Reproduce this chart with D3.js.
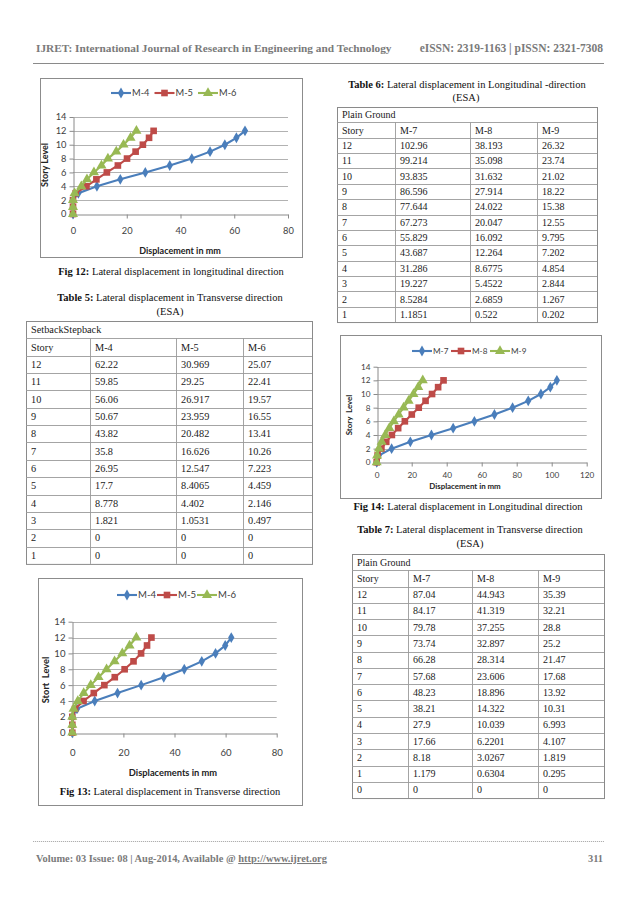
<!DOCTYPE html>
<html>
<head>
<meta charset="utf-8">
<script src="https://cdn.jsdelivr.net/npm/d3@7"></script>
<style>
  body { margin: 0; background: #fff; }
  text { font-family: "Liberation Serif", "Times New Roman", serif; }
  .xl text, text.xl { font-family: Lato, "Open Sans", sans-serif; }
</style>
</head>
<body>
<svg id="page" width="638" height="902"></svg>
<script>
// ---- data -------------------------------------------------------------
const plotStories = d3.range(0, 13);              // story level 0..12 on the charts
const legendA = ["M-4", "M-5", "M-6"];
const legendB = ["M-7", "M-8", "M-9"];

// Fig 12 (longitudinal, setback-stepback), story 0..12
const fig12M4 = [0, 0, 0, 2.0, 8.9, 17.6, 26.9, 36.0, 44.2, 51.0, 56.5, 60.8, 64.0];
const fig12M5 = [0, 0, 0, 1.0, 5.0, 8.7, 12.6, 16.7, 20.1, 23.3, 26.0, 28.3, 30.0];
const fig12M6 = [0, 0, 0, 0.6, 3.1, 5.2, 7.8, 10.6, 13.0, 16.1, 18.8, 21.4, 23.6];

// Table 5 (transverse, setback-stepback), story 12..1
const t5Stories = ["12", "11", "10", "9", "8", "7", "6", "5", "4", "3", "2", "1"];
const t5M4 = ["62.22", "59.85", "56.06", "50.67", "43.82", "35.8", "26.95", "17.7", "8.778", "1.821", "0", "0"];
const t5M5 = ["30.969", "29.25", "26.917", "23.959", "20.482", "16.626", "12.547", "8.4065", "4.402", "1.0531", "0", "0"];
const t5M6 = ["25.07", "22.41", "19.57", "16.55", "13.41", "10.26", "7.223", "4.459", "2.146", "0.497", "0", "0"];

// Table 6 (longitudinal, plain ground), story 12..1
const t6Stories = ["12", "11", "10", "9", "8", "7", "6", "5", "4", "3", "2", "1"];
const t6M7 = ["102.96", "99.214", "93.835", "86.596", "77.644", "67.273", "55.829", "43.687", "31.286", "19.227", "8.5284", "1.1851"];
const t6M8 = ["38.193", "35.098", "31.632", "27.914", "24.022", "20.047", "16.092", "12.264", "8.6775", "5.4522", "2.6859", "0.522"];
const t6M9 = ["26.32", "23.74", "21.02", "18.22", "15.38", "12.55", "9.795", "7.202", "4.854", "2.844", "1.267", "0.202"];

// Table 7 (transverse, plain ground), story 12..0
const t7Stories = ["12", "11", "10", "9", "8", "7", "6", "5", "4", "3", "2", "1", "0"];
const t7M7 = ["87.04", "84.17", "79.78", "73.74", "66.28", "57.68", "48.23", "38.21", "27.9", "17.66", "8.18", "1.179", "0"];
const t7M8 = ["44.943", "41.319", "37.255", "32.897", "28.314", "23.606", "18.896", "14.322", "10.039", "6.2201", "3.0267", "0.6304", "0"];
const t7M9 = ["35.39", "32.21", "28.8", "25.2", "21.47", "17.68", "13.92", "10.31", "6.993", "4.107", "1.819", "0.295", "0"];

// story 0 is 0 on the charts, tables list top story first
const fromTable = col => [0].concat(col.slice().reverse().map(Number)).slice(-13);

const seriesColors = ["#4a7ebb", "#be4b48", "#98b954"];
const seriesSymbols = [d3.symbolDiamond, d3.symbolSquare, d3.symbolTriangle];
const symbolSizes = [34, 44, 44];

const svg = d3.select('#page');

// ---- header / footer --------------------------------------------------
svg.append('text').attr('x', 36).attr('y', 52)
  .attr('font-size', 11.3).attr('font-weight', 'bold').attr('fill', '#7a7a7a')
  .text('IJRET: International Journal of Research in Engineering and Technology');
svg.append('text').attr('x', 603).attr('y', 52).attr('text-anchor', 'end')
  .attr('font-size', 11.5).attr('font-weight', 'bold').attr('fill', '#7a7a7a')
  .text('eISSN: 2319-1163 | pISSN: 2321-7308');
svg.append('line').attr('x1', 33).attr('x2', 604).attr('y1', 63.5).attr('y2', 63.5)
  .attr('stroke', '#8a8a8a').attr('stroke-width', 1);

svg.append('line').attr('x1', 33).attr('x2', 604).attr('y1', 841.5).attr('y2', 841.5)
  .attr('stroke', '#9a9a9a').attr('stroke-width', 0.8).attr('stroke-dasharray', '1.2 0.8');
let foot = svg.append('text').attr('x', 36).attr('y', 862)
  .attr('font-size', 10.4).attr('font-weight', 'bold').attr('fill', '#7a7a7a');
foot.append('tspan').text('Volume: 03 Issue: 08 | Aug-2014, Available @ ');
foot.append('tspan').attr('text-decoration', 'underline').text('http://www.ijret.org');
svg.append('text').attr('x', 603).attr('y', 862).attr('text-anchor', 'end')
  .attr('font-size', 10.4).attr('font-weight', 'bold').attr('fill', '#7a7a7a').text('311');

// ---- captions ---------------------------------------------------------
function caption(x, y, bold, rest) {
  let t = svg.append('text').attr('x', x).attr('y', y).attr('text-anchor', 'middle')
    .attr('font-size', 10.5).attr('fill', '#111');
  t.append('tspan').attr('font-weight', 'bold').text(bold);
  t.append('tspan').text(rest);
  return t;
}

// ---- chart ------------------------------------------------------------
function drawChart(c) {
  const g = svg.append('g').attr('class', 'xl');
  g.append('rect')
    .attr('x', c.box[0] + 0.5).attr('y', c.box[1] + 0.5)
    .attr('width', c.box[2]).attr('height', c.box[3])
    .attr('fill', '#fff').attr('stroke', c.frame ? '#8c8c8c' : 'none');

  const x = d3.scaleLinear().domain([0, c.xMax]).range([c.x0, c.x1]);
  const y = d3.scaleLinear().domain([0, 14]).range([c.y0, c.y1]);

  g.selectAll('line.grid').data(d3.range(2, 15, 2)).join('line')
    .attr('class', 'grid')
    .attr('x1', c.x0).attr('x2', c.x1)
    .attr('y1', d => Math.round(y(d)) + 0.5).attr('y2', d => Math.round(y(d)) + 0.5)
    .attr('stroke', '#a9a9a9').attr('stroke-width', 0.9);

  const xAxis = g.append('g').attr('transform', `translate(0,${Math.round(c.y0) + 0.5})`)
    .call(d3.axisBottom(x).tickValues(d3.range(0, c.xMax + 1, 20)).tickSize(4).tickSizeOuter(0)
      .tickPadding(c.xTickY - c.y0 - 4 - 0.36 * c.fs));
  const yAxis = g.append('g').attr('transform', `translate(${Math.round(c.x0) + 0.5},0)`)
    .call(d3.axisLeft(y).tickValues(d3.range(0, 15, 2)).tickSize(4).tickSizeOuter(0).tickPadding(3));
  [xAxis, yAxis].forEach(a => {
    a.select('.domain').attr('stroke', '#8a8a8a');
    a.selectAll('.tick line').attr('stroke', '#8a8a8a');
    a.selectAll('.tick text').attr('fill', '#404040').attr('font-size', c.fs)
      .attr('font-family', 'Lato, "Open Sans", sans-serif');
  });

  const line = d3.line().x(d => x(d[0])).y(d => y(d[1]));
  c.series.forEach((vals, k) => {
    const pts = vals.map((v, i) => [v, plotStories[i]]);
    g.append('path').datum(pts).attr('d', line)
      .attr('fill', 'none').attr('stroke', seriesColors[k]).attr('stroke-width', 2.1);
    g.selectAll(null).data(pts).join('path')
      .attr('transform', d => `translate(${x(d[0])},${y(d[1])})`)
      .attr('d', d3.symbol().type(seriesSymbols[k]).size(symbolSizes[k]))
      .attr('fill', seriesColors[k]);
  });

  // legend
  c.legend.forEach((name, k) => {
    const lx = c.legX + k * c.legStep;
    g.append('line').attr('x1', lx).attr('x2', lx + 20).attr('y1', c.legY).attr('y2', c.legY)
      .attr('stroke', seriesColors[k]).attr('stroke-width', 2.1);
    g.append('path').attr('transform', `translate(${lx + 10},${c.legY})`)
      .attr('d', d3.symbol().type(seriesSymbols[k]).size(symbolSizes[k]))
      .attr('fill', seriesColors[k]);
    g.append('text').attr('x', lx + 21).attr('y', c.legY + 0.36 * c.fs)
      .attr('font-size', c.fs).attr('fill', '#404040').text(name);
  });

  g.append('text').attr('x', c.xTitle[0]).attr('y', c.xTitle[1]).attr('text-anchor', 'middle')
    .attr('font-size', c.fs - 0.3).attr('font-weight', 'bold').attr('fill', '#222')
    .text(c.xLabel);
  g.append('text').attr('transform', `translate(${c.yTitle[0]},${c.yTitle[1]}) rotate(-90)`)
    .attr('text-anchor', 'middle').attr('xml:space', 'preserve')
    .attr('font-size', c.fs - 0.3).attr('font-weight', 'bold').attr('fill', '#222')
    .text(c.yLabel);
}

// ---- table ------------------------------------------------------------
function drawTable(t) {
  const g = svg.append('g');
  const body = t.stories.map((s, i) => [s, t.cols[0][i], t.cols[1][i], t.cols[2][i]]);
  const rows = [["Story"].concat(t.names)].concat(body);
  const nRows = rows.length + 1;
  const yr = d3.scaleLinear().domain([0, nRows]).range([t.top, t.top + nRows * t.rowH]);
  const bottom = yr(nRows);
  const edges = t.colX;

  g.append('rect').attr('x', edges[0] + 0.5).attr('y', t.top + 0.5)
    .attr('width', edges[edges.length - 1] - edges[0]).attr('height', bottom - t.top)
    .attr('fill', 'none').attr('stroke', '#8a8a8a');
  g.selectAll('line.h').data(d3.range(1, nRows)).join('line')
    .attr('x1', edges[0]).attr('x2', edges[edges.length - 1])
    .attr('y1', d => Math.round(yr(d)) + 0.5).attr('y2', d => Math.round(yr(d)) + 0.5)
    .attr('stroke', '#9a9a9a').attr('stroke-width', 0.9);
  g.selectAll('line.v').data(edges.slice(1, -1)).join('line')
    .attr('x1', d => d + 0.5).attr('x2', d => d + 0.5)
    .attr('y1', yr(1)).attr('y2', bottom)
    .attr('stroke', '#9a9a9a').attr('stroke-width', 0.9);

  g.append('text').attr('x', edges[0] + 5).attr('y', yr(0.5) + 3.5)
    .attr('font-size', t.fs).attr('fill', '#1a1a1a').text(t.group);
  rows.forEach((r, i) => {
    r.forEach((cell, j) => {
      g.append('text').attr('x', edges[j] + 5).attr('y', yr(i + 1.5) + 3.5)
        .attr('font-size', t.fs).attr('fill', '#1a1a1a').text(cell);
    });
  });
}

// ---- left column ------------------------------------------------------
drawChart({
  box: [40, 78, 262, 179], frame: true, x0: 73, x1: 288, y0: 214, y1: 117, xMax: 80, fs: 9.3,
  xTickY: 230, legX: 111, legStep: 43.5, legY: 93, legend: legendA,
  series: [fig12M4, fig12M5, fig12M6],
  xTitle: [180, 254], xLabel: 'Displacement in mm',
  yTitle: [48, 165], yLabel: 'Story Level'
});
caption(171, 275, 'Fig 12:', ' Lateral displacement in longitudinal direction');
caption(170, 301, 'Table 5:', ' Lateral displacement in Transverse direction');
caption(170, 315, '', '(ESA)');

drawTable({
  top: 321, rowH: 17.35, colX: [26, 90, 176, 243, 312], fs: 10.3,
  group: 'SetbackStepback', names: legendA, stories: t5Stories, cols: [t5M4, t5M5, t5M6]
});

svg.append('rect').attr('x', 38.5).attr('y', 578.5).attr('width', 264).attr('height', 227)
  .attr('fill', '#fff').attr('stroke', '#8c8c8c');
drawChart({
  box: [40, 580, 260, 205], frame: false, x0: 72.3, x1: 276.7, y0: 732.7, y1: 621.7, xMax: 80, fs: 9.6,
  xTickY: 752, legX: 117, legStep: 40, legY: 595, legend: legendA,
  series: [fromTable(t5M4), fromTable(t5M5), fromTable(t5M6)],
  xTitle: [173, 776], xLabel: 'Displacements in mm',
  yTitle: [49, 680], yLabel: 'Stort  Level'
});
caption(170, 795, 'Fig 13:', ' Lateral displacement in Transverse direction');

// ---- right column -----------------------------------------------------
caption(467, 88, 'Table 6:', ' Lateral displacement in Longitudinal -direction');
caption(466, 101, '', '(ESA)');
drawTable({
  top: 107, rowH: 15.36, colX: [337, 395, 470, 537, 597], fs: 10,
  group: 'Plain Ground', names: legendB, stories: t6Stories, cols: [t6M7, t6M8, t6M9]
});

drawChart({
  box: [340, 335, 261, 163], frame: true, x0: 376.7, x1: 586.7, y0: 462.3, y1: 366.7, xMax: 120, fs: 8.2,
  xTickY: 475, legX: 412, legStep: 39, legY: 351, legend: legendB,
  series: [fromTable(t6M7), fromTable(t6M8), fromTable(t6M9)],
  xTitle: [465, 489], xLabel: 'Displacement in mm',
  yTitle: [352, 415], yLabel: 'Story  Level'
});
caption(468, 510, 'Fig 14:', ' Lateral displacement in Longitudinal direction');

caption(470, 533, 'Table 7:', ' Lateral displacement in Transverse direction');
caption(470, 547, '', '(ESA)');
drawTable({
  top: 554, rowH: 16.27, colX: [352, 408, 472, 538, 604], fs: 10,
  group: 'Plain Ground', names: legendB, stories: t7Stories, cols: [t7M7, t7M8, t7M9]
});
</script>
</body>
</html>
